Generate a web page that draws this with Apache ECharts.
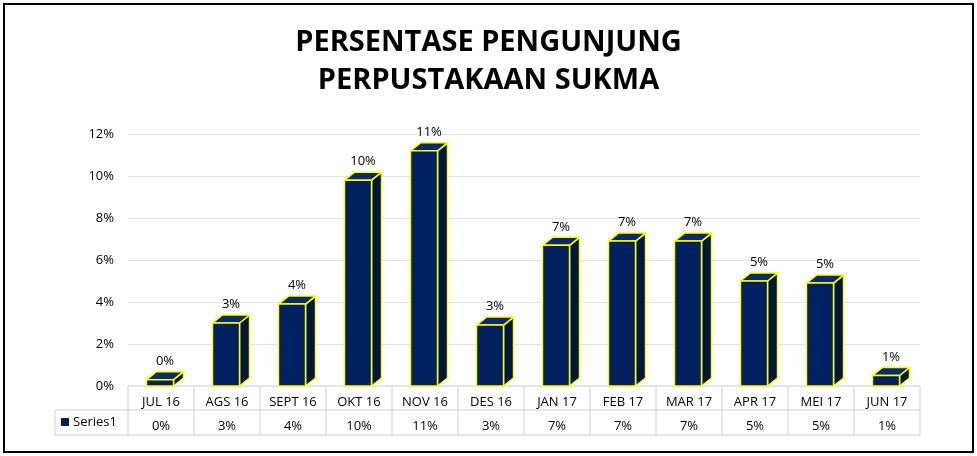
<!DOCTYPE html>
<html><head><meta charset="utf-8">
<script src="https://cdn.jsdelivr.net/npm/echarts@6/dist/echarts.min.js"></script>
<style>html,body{margin:0;padding:0;background:#fff}
#frame{position:absolute;left:3px;top:3px;width:967px;height:446px;border:2px solid #000}
#c{position:absolute;left:0;top:0;width:977px;height:456px}</style></head>
<body><div id="frame"></div><div id="c"></div>
<script>
const categories=['JUL 16','AGS 16','SEPT 16','OKT 16','NOV 16','DES 16','JAN 17','FEB 17','MAR 17','APR 17','MEI 17','JUN 17'];
const values=[0.3,3.0,3.9,9.8,11.2,2.9,6.7,6.9,6.9,5.0,4.9,0.5];
const seriesName='Series1';
const yTicks=[0,2,4,6,8,10,12];
const valueLabels=values.map(v=>Math.round(v)+'%');
const chart=echarts.init(document.getElementById('c'));
const L=128,R=920,T=134,B=386,font='"Open Sans", "Liberation Sans", sans-serif';
const g=[];
const cw=(R-L)/categories.length;
[386,410,435].forEach(y=>g.push({type:'line',shape:{x1:y===386?L:55,y1:y,x2:R,y2:y},style:{stroke:'#d0d0d0',lineWidth:1}}));
g.push({type:'line',shape:{x1:55,y1:410,x2:55,y2:435},style:{stroke:'#d0d0d0'}});
for(let i=0;i<=categories.length;i++){const x=L+i*cw;g.push({type:'line',shape:{x1:x,y1:386,x2:x,y2:435},style:{stroke:'#d0d0d0'}});}
g.push({type:'rect',shape:{x:61,y:418,width:8,height:8},style:{fill:'#002060'}});
g.push({type:'text',x:73,y:422,style:{text:seriesName,fill:'#000',font:'13px '+font,verticalAlign:'middle'}});
chart.setOption({
animation:false,
title:{text:'PERSENTASE PENGUNJUNG\nPERPUSTAKAAN SUKMA',left:'center',top:19,textStyle:{fontSize:29,fontWeight:'bold',fontFamily:font,lineHeight:38,color:'#000'}},
grid:{left:L,right:977-R,top:T,bottom:456-B},
xAxis:[{type:'category',data:categories,axisLine:{show:false},axisTick:{show:false},axisLabel:{margin:10,fontSize:13,fontFamily:font,color:'#000'}},
{type:'category',data:valueLabels,position:'bottom',offset:24,axisLine:{show:false},axisTick:{show:false},axisLabel:{margin:10,fontSize:13,fontFamily:font,color:'#000'}}],
yAxis:{type:'value',min:0,max:12,interval:2,axisLine:{show:false},axisTick:{show:false},splitLine:{lineStyle:{color:'#e3e3e3'}},axisLabel:{formatter:v=>v+'%',fontSize:13,fontFamily:font,color:'#000',margin:14}},
graphic:g,
series:[{type:'custom',name:seriesName,data:values.map((v,i)=>[i,v]),renderItem:(p,api)=>{
 const i=api.value(0),v=api.value(1);const top=api.coord([i,v]),base=api.coord([i,0]);
 const band=api.size([1,0])[0];const w=band*0.41,dx=10,dy=8;
 const x0=top[0]-w/2-1,x1=x0+w,y0=top[1],y1=base[1];
 const st={stroke:'#ffff00',lineWidth:1.5,lineJoin:'round'};
 return {type:'group',children:[
  {type:'polygon',shape:{points:[[x1,y0],[x1+dx,y0-dy],[x1+dx,y1-dy],[x1,y1]]},style:Object.assign({fill:'#001642'},st)},
  {type:'polygon',shape:{points:[[x0,y0],[x0+dx,y0-dy],[x1+dx,y0-dy],[x1,y0]]},style:Object.assign({fill:'#0a2a6e'},st)},
  {type:'rect',shape:{x:x0,y:y0,width:w,height:y1-y0},style:Object.assign({fill:'#002060'},st)},
  {type:'text',x:x0+w/2+dx/2,y:y0-dy-4,style:{text:Math.round(v)+'%',fill:'#000',font:'13px '+font,align:'center',verticalAlign:'bottom'}}
 ]};}}]
});
</script></body></html>
